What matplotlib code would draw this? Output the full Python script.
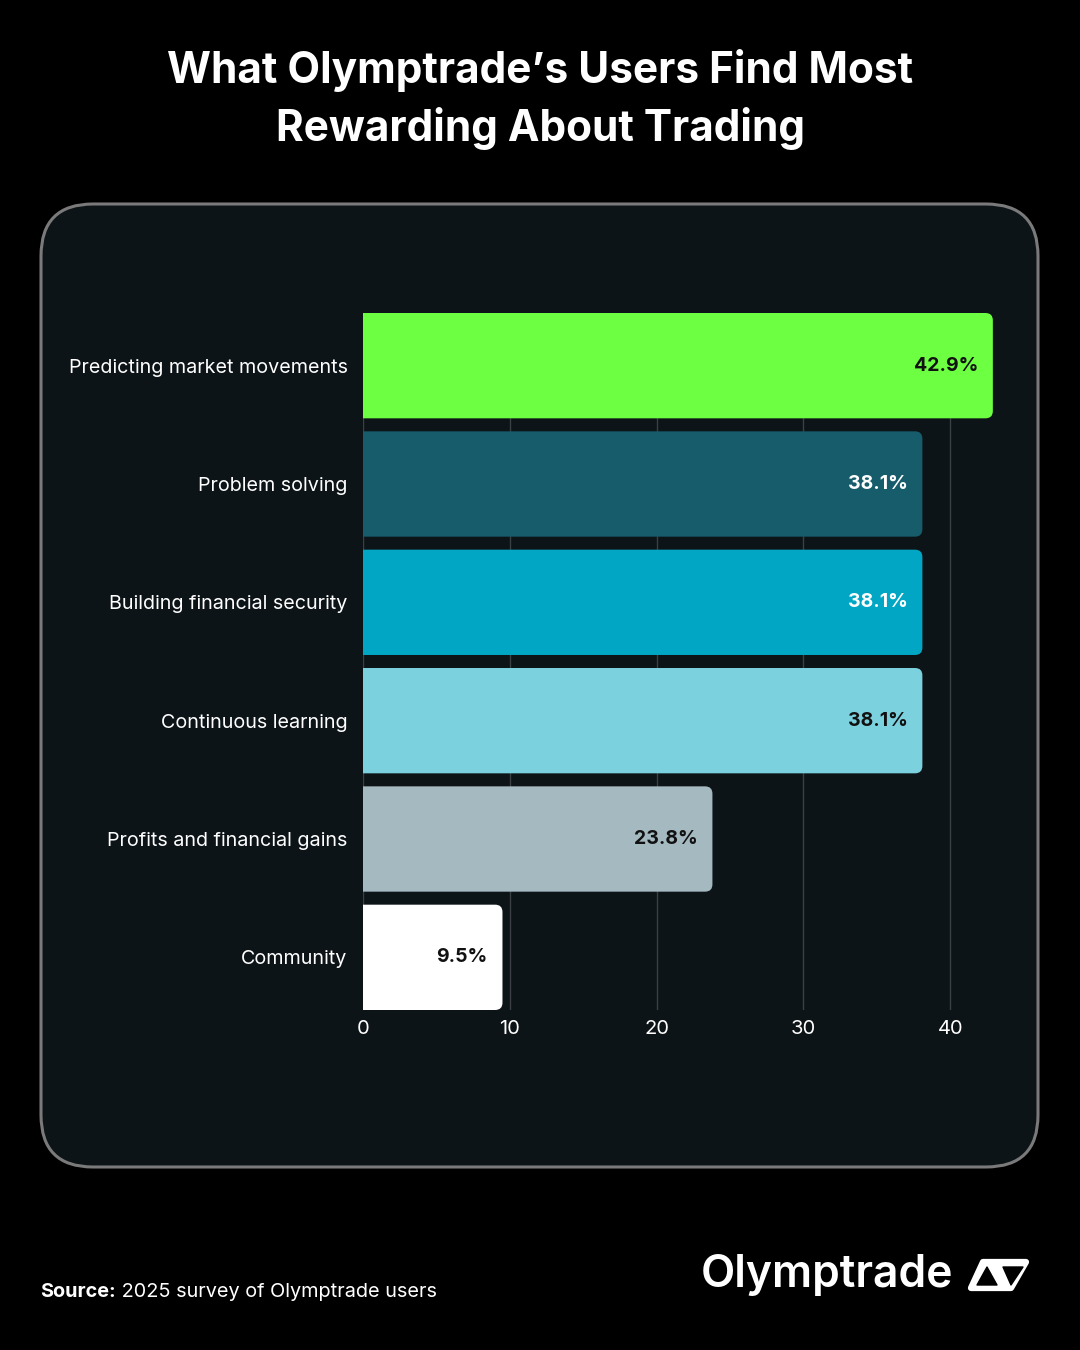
import matplotlib
matplotlib.use("Agg")
import matplotlib.pyplot as plt
from matplotlib.patches import FancyBboxPatch, Polygon

plt.rcParams['font.family'] = ['Inter', 'DejaVu Sans']

# data
categories = ["Predicting market movements", "Problem solving", "Building financial security",
              "Continuous learning", "Profits and financial gains", "Community"]
values = [42.9, 38.1, 38.1, 38.1, 23.8, 9.5]
bar_colors = ["#6dff41", "#165c6b", "#00a6c4", "#7bd1de", "#a4b9c0", "#ffffff"]
label_colors = ["#111111", "#ffffff", "#ffffff", "#111111", "#111111", "#111111"]
xticks = [0, 10, 20, 30, 40]

W, H = 1080, 1350
fig = plt.figure(figsize=(W / 100, H / 100), dpi=100, facecolor="black")

# background layer in pixel coords
bg = fig.add_axes([0, 0, 1, 1])
bg.set_xlim(0, W)
bg.set_ylim(H, 0)
bg.axis("off")
bg.set_facecolor("black")
panel = FancyBboxPatch((41, 204), 997, 963, boxstyle="round,pad=0,rounding_size=52",
                       facecolor="#0d1417", edgecolor="#7a7a7a", linewidth=2.2)
bg.add_patch(panel)

# logo mark
outer = Polygon([(971, 1288), (983, 1262), (1026, 1262), (1011, 1288)], closed=True,
                facecolor="white", edgecolor="white", linewidth=4.5, joinstyle="round")
hole1 = Polygon([(977, 1285), (997, 1285), (987, 1267)], closed=True,
                facecolor="black", edgecolor="black", linewidth=1, joinstyle="round")
hole2 = Polygon([(1003, 1267), (1023, 1267), (1011, 1285)], closed=True,
                facecolor="black", edgecolor="black", linewidth=1, joinstyle="round")
for p in (outer, hole1, hole2):
    bg.add_patch(p)

# title
fig.text(0.5, 1 - 70 / H, "What Olymptrade’s Users Find Most", color="white",
         fontsize=30.5, fontweight="bold", ha="center", va="center")
fig.text(0.5, 1 - 129 / H, "Rewarding About Trading", color="white",
         fontsize=30.5, fontweight="bold", ha="center", va="center")

# chart
ax = fig.add_axes([363 / W, 1 - 1010 / H, (1009 - 363) / W, (1010 - 313) / H])
ax.set_facecolor("none")
ypos = list(range(len(categories)))
bar_h = 0.89
bars = ax.barh(ypos, values, height=bar_h, color=bar_colors, zorder=3)
ax.set_xlim(0, 44)
ax.set_ylim(len(categories) - 1 + 0.445, -0.445)

# rounded right corners; left corners pushed outside the axes and clipped
aspect = (1 / 118.2) / (1 / 14.68)
for b, c in zip(bars, bar_colors):
    x0, y0, w, h = b.get_x(), b.get_y(), b.get_width(), b.get_height()
    b.set_visible(False)
    ax.add_patch(FancyBboxPatch((x0 - 2, y0), w + 2, h, boxstyle="round,pad=0,rounding_size=0.5",
                                mutation_aspect=aspect, facecolor=c, edgecolor="none", zorder=3))

for y, v, lc in zip(ypos, values, label_colors):
    ax.text(v - 1.0, y, f"{v}%", color=lc, fontsize=14, fontweight="bold",
            ha="right", va="center", zorder=4)

ax.set_yticks(ypos)
ax.set_yticklabels(categories, color="white", fontsize=14.2)
ax.set_xticks(xticks)
ax.set_xticklabels([str(t) for t in xticks], color="white", fontsize=14.5)
ax.tick_params(axis="y", length=0, pad=11)
ax.tick_params(axis="x", length=0, pad=7)
for s in ax.spines.values():
    s.set_visible(False)
ax.grid(axis="x", color="#3a4043", linewidth=1, zorder=0)
ax.set_axisbelow(True)

# footer
src = fig.text(40 / W, 1 - 1292 / H, "Source:", color="white", fontsize=14.3,
               fontweight="bold", ha="left", va="center")
fig.canvas.draw()
ext = src.get_window_extent()
fig.text(ext.x1 / W, 1 - 1292 / H, " 2025 survey of Olymptrade users", color="white",
         fontsize=14.3, ha="left", va="center")
fig.text(701 / W, 1 - 1275 / H, "Olymptrade", color="white", fontsize=32,
         fontweight="semibold", ha="left", va="center")

fig.savefig("out.png", dpi=100, facecolor="black")
